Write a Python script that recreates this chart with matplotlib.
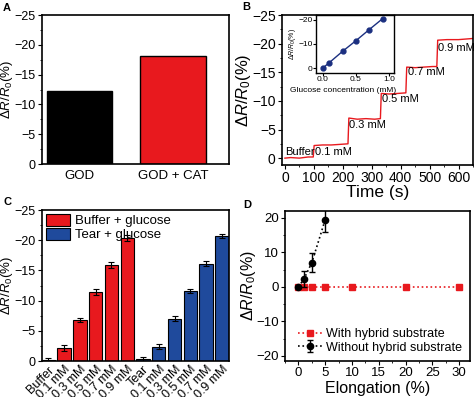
import matplotlib
matplotlib.use("Agg")
import matplotlib.pyplot as plt
from matplotlib.ticker import MultipleLocator

plt.rcParams['font.family'] = ['Liberation Sans', 'DejaVu Sans']
plt.rcParams['mathtext.fontset'] = 'custom'
plt.rcParams['mathtext.rm'] = 'Liberation Sans'
plt.rcParams['mathtext.it'] = 'Liberation Sans:italic'
plt.rcParams['axes.linewidth'] = 1.2
plt.rcParams['xtick.major.size'] = 3
plt.rcParams['ytick.major.size'] = 3
plt.rcParams['xtick.minor.size'] = 1.5
plt.rcParams['ytick.minor.size'] = 1.5
plt.rcParams['xtick.major.pad'] = 1.5
plt.rcParams['ytick.major.pad'] = 1.5

# panel A
a_labels = ["GOD", "GOD + CAT"]
a_values = [-12.2, -18.2]
a_colors = ["#000000", "#e8191e"]

# panel B: time trace breakpoints
b_time = [0, 20, 50, 80, 98, 101, 130, 160, 190, 218, 221, 250, 280, 310, 330,
          333, 360, 390, 418, 421, 450, 480, 510, 525, 528, 560, 600, 650]
b_value = [0.0, -0.1, 0.0, -0.2, -0.2, -2.2, -2.3, -2.3, -2.4, -2.5, -7.0, -6.8,
           -6.9, -6.8, -6.9, -11.3, -11.2, -11.3, -11.4, -15.9, -15.8, -15.9,
           -16.0, -16.0, -20.6, -20.7, -20.7, -20.9]
b_notes = ["Buffer", "0.1 mM", "0.3 mM", "0.5 mM", "0.7 mM", "0.9 mM"]
b_note_t = [2, 104, 222, 335, 424, 530]
b_note_y = [-1.0, -1.0, -5.7, -10.3, -15.0, -19.3]

# inset
conc = [0.0, 0.1, 0.3, 0.5, 0.7, 0.9]
conc_resp = [0.0, -2.3, -7.0, -11.4, -16.0, -20.5]

# panel C
c_labels = ["Buffer", "0.1 mM", "0.3 mM", "0.5 mM", "0.7 mM", "0.9 mM",
            "Tear", "0.1 mM", "0.3 mM", "0.5 mM", "0.7 mM", "0.9 mM"]
c_buffer = [-0.1, -2.2, -6.8, -11.4, -15.9, -20.4]
c_buffer_err = [0.4, 0.5, 0.4, 0.5, 0.5, 0.5]
c_tear = [-0.3, -2.4, -7.0, -11.6, -16.1, -20.7]
c_tear_err = [0.4, 0.4, 0.4, 0.4, 0.4, 0.4]

# panel D
d_x_with = [0, 1, 2.5, 5, 10, 20, 30]
d_y_with = [0, 0, 0, 0, 0, 0, 0]
d_x_without = [0, 1, 2.5, 5]
d_y_without = [0, 2.2, 7.0, 19.5]
d_err_without = [0.2, 2.3, 2.8, 3.5]

red = "#e8191e"
blue = "#1f4a9c"
navy = "#1b2f80"

fig = plt.figure(figsize=(4.74, 3.97), dpi=100)
W, H = 474.0, 397.0


def box(l, t, r, b):
    return [l / W, 1 - b / H, (r - l) / W, (b - t) / H]


def ylab(ax, x_px, size):
    # x_px is the right edge of the rotated label, in figure pixels
    ax.set_ylabel(r'$\Delta R/R_0$(%)', fontsize=size)
    l = ax.get_position().x0 * W
    w = ax.get_position().width * W
    ax.yaxis.set_label_coords((x_px - l) / w, 0.5)


# ---- A
ax = fig.add_axes(box(42, 15, 229, 164))
ax.bar([0, 1], a_values, width=0.7, color=a_colors, edgecolor="black", linewidth=1.0)
ax.set_xlim(-0.4, 1.6)
ax.set_ylim(0, -25)
ax.set_xticks([0, 1])
ax.set_xticklabels(a_labels, fontsize=9.5)
ax.yaxis.set_major_locator(MultipleLocator(5))
ax.yaxis.set_minor_locator(MultipleLocator(2.5))
ax.tick_params(axis='y', labelsize=9)
ax.tick_params(axis='x', length=0, pad=4)
ylab(ax, 15.5, 9.5)

# ---- B
ax = fig.add_axes(box(282, 15, 473, 165))
ax.plot(b_time, b_value, color=red, linewidth=1.0)
for s, t, y in zip(b_notes, b_note_t, b_note_y):
    ax.text(t, y, s, fontsize=8, va='center', ha='left')
ax.set_xlim(-10, 650)
ax.set_ylim(1.2, -25)
ax.xaxis.set_major_locator(MultipleLocator(100))
ax.xaxis.set_minor_locator(MultipleLocator(50))
ax.yaxis.set_major_locator(MultipleLocator(5))
ax.yaxis.set_minor_locator(MultipleLocator(2.5))
ax.tick_params(labelsize=10)
ax.set_xlabel("Time (s)", fontsize=12.5, labelpad=0)
ylab(ax, 253, 12)

ins = fig.add_axes(box(316, 15, 394, 73))
ins.plot(conc, conc_resp, color=navy, linewidth=1.0, marker='o', markersize=3.5)
ins.set_xlim(-0.1, 1.07)
ins.set_ylim(2, -22)
ins.set_xticks([0.0, 0.5, 1.0])
ins.set_yticks([0, -10, -20])
ins.tick_params(labelsize=6, length=2, pad=0.5)
ins.set_xlabel("Glucose concentration (mM)", fontsize=6, labelpad=0)
ins.xaxis.set_label_coords(0.35, -0.25)
ins.set_ylabel(r'$\Delta R/R_0$(%)', fontsize=5, labelpad=0)
for sp in ins.spines.values():
    sp.set_linewidth(1.0)

# ---- C
ax = fig.add_axes(box(42, 210, 229, 361))
xs_b = list(range(6))
xs_t = list(range(6, 12))
ax.bar(xs_b, c_buffer, width=0.85, color=red, edgecolor="black", linewidth=0.8,
       yerr=c_buffer_err, capsize=2, error_kw=dict(elinewidth=0.8, capthick=0.8),
       label="Buffer + glucose")
ax.bar(xs_t, c_tear, width=0.85, color=blue, edgecolor="black", linewidth=0.8,
       yerr=c_tear_err, capsize=2, error_kw=dict(elinewidth=0.8, capthick=0.8),
       label="Tear + glucose")
ax.set_xlim(-0.4, 11.45)
ax.set_ylim(0, -25)
ax.set_xticks(range(12))
ax.set_xticklabels(c_labels, rotation=45, ha='right', rotation_mode='anchor', fontsize=9)
ax.tick_params(axis='x', length=0, pad=2)
ax.yaxis.set_major_locator(MultipleLocator(5))
ax.yaxis.set_minor_locator(MultipleLocator(2.5))
ax.tick_params(axis='y', labelsize=9)
ylab(ax, 15.5, 9.5)
ax.legend(loc='upper left', fontsize=9.5, frameon=False, handlelength=1.8,
          handleheight=1.0, borderaxespad=0.2, labelspacing=0.05, borderpad=0.1,
          handletextpad=0.4)

# ---- D
ax = fig.add_axes(box(285, 211, 470, 361))
ax.plot(d_x_with, d_y_with, linestyle=':', color=red, marker='s', markersize=4,
        linewidth=1.2, label="With hybrid substrate")
ax.errorbar(d_x_without, d_y_without, yerr=d_err_without, linestyle=':', color="black",
            marker='o', markersize=4.5, linewidth=1.2, capsize=2.5, elinewidth=1.0,
            label="Without hybrid substrate")
ax.set_xlim(-2.5, 32)
ax.set_ylim(-21.5, 22)
ax.xaxis.set_major_locator(MultipleLocator(5))
ax.xaxis.set_minor_locator(MultipleLocator(2.5))
ax.yaxis.set_major_locator(MultipleLocator(10))
ax.yaxis.set_minor_locator(MultipleLocator(5))
ax.tick_params(labelsize=9.5)
ax.set_xlabel("Elongation (%)", fontsize=11.5, labelpad=1)
ylab(ax, 258, 11.5)
ax.legend(loc='lower right', fontsize=9, frameon=False, handlelength=2.0,
          borderaxespad=0.2, labelspacing=0.1, handletextpad=0.3)

# panel letters
for s, x, y in [("A", 3, 8), ("B", 242, 7), ("C", 3, 202), ("D", 243, 205)]:
    fig.text(x / W, 1 - y / H, s, fontsize=8, fontweight='bold', va='center', ha='left')

fig.savefig("out.png", dpi=100)
